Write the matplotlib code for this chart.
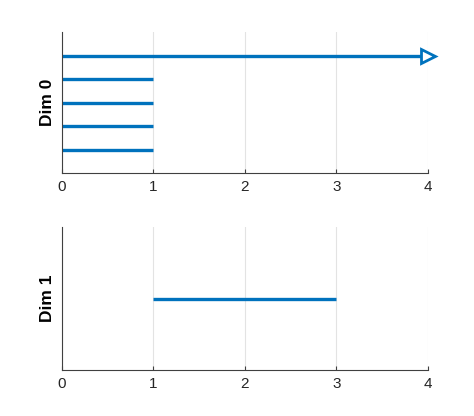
import matplotlib
matplotlib.use("Agg")
import matplotlib.pyplot as plt
import numpy as np

# persistence intervals per dimension (inf = never dies)
dim0_birth = [0, 0, 0, 0, 0]
dim0_death = [np.inf, 1, 1, 1, 1]
dim1_birth = [1]
dim1_death = [3]
x_ticks = [0, 1, 2, 3, 4]
x_max = 4

blue = "#0072BD"
axis_grey = "#404040"

plt.rcParams["font.family"] = ["Liberation Sans", "DejaVu Sans"]

fig = plt.figure(figsize=(4.74, 4.16), dpi=100)
ax0 = fig.add_axes([0.1308, 0.584, 0.772, 0.339])
ax1 = fig.add_axes([0.1308, 0.1106, 0.772, 0.3437])


def barcode(ax, births, deaths, label):
    n = len(births)
    for i, (b, d) in enumerate(zip(births, deaths)):
        y = n - i
        if np.isinf(d):
            ax.plot([b, x_max], [y, y], color=blue, lw=2.4, solid_capstyle="butt")
            ax.plot(x_max, y, marker=">", ms=10, mfc="white", mec=blue, mew=2, clip_on=False)
        else:
            ax.plot([b, d], [y, y], color=blue, lw=2.4, solid_capstyle="butt")
    ax.set_xlim(0, x_max)
    ax.set_ylim(0, n + 1)
    ax.set_xticks(x_ticks)
    ax.set_yticks([])
    ax.set_ylabel(label, fontsize=12.5, fontweight="bold", labelpad=5)
    ax.grid(axis="x", color="#e3e3e3", lw=0.8)
    ax.set_axisbelow(True)
    for s in ["top", "right"]:
        ax.spines[s].set_visible(False)
    for s in ["left", "bottom"]:
        ax.spines[s].set_color(axis_grey)
        ax.spines[s].set_linewidth(0.8)
    ax.tick_params(axis="x", direction="in", length=3, colors=axis_grey,
                   labelcolor="#262626", labelsize=11, pad=5)


barcode(ax0, dim0_birth, dim0_death, "Dim 0")
barcode(ax1, dim1_birth, dim1_death, "Dim 1")

fig.savefig("out.png", dpi=100)
